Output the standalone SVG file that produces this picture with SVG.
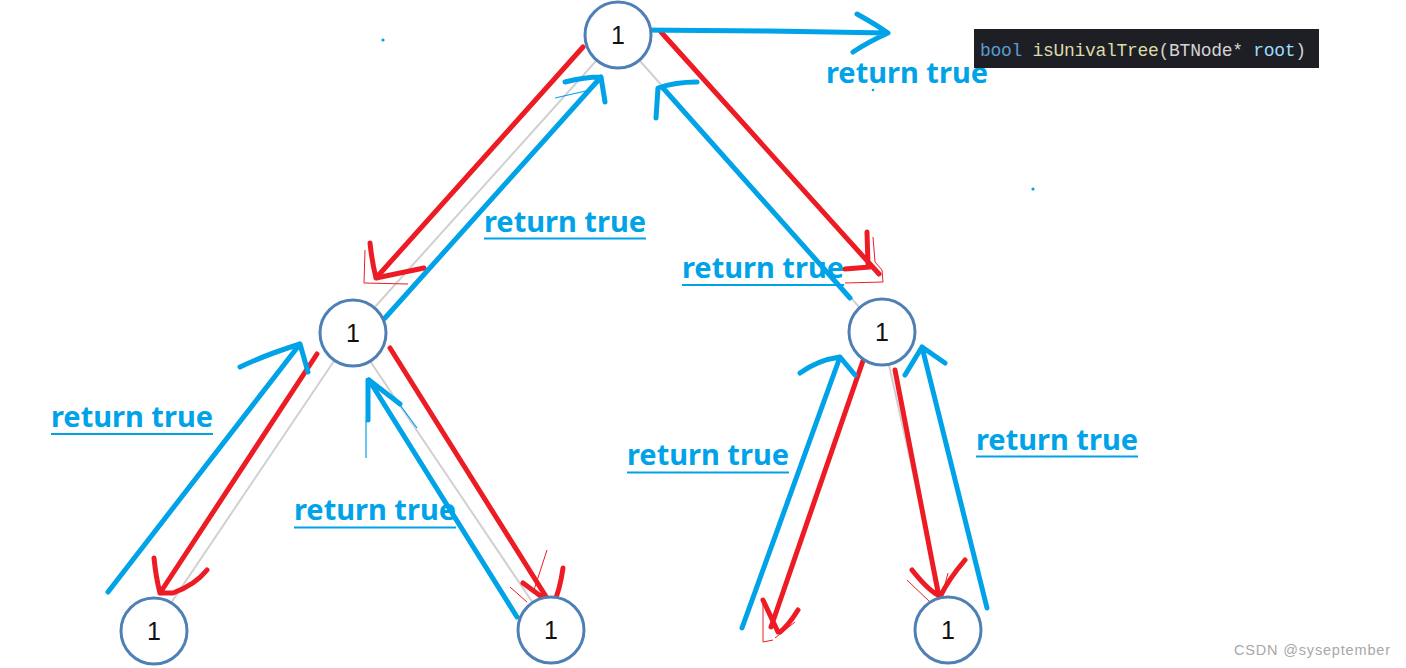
<svg xmlns="http://www.w3.org/2000/svg" width="1406" height="668" viewBox="0 0 1406 668">
<style>
.node circle{fill:#fff;stroke:#4f80b5;stroke-width:3}
.node text{font-family:"Liberation Sans",Arial,sans-serif;font-size:25px;fill:#111;text-anchor:middle}
.edge{stroke:#d0d0d0;stroke-width:2;fill:none}
.red{stroke:#ed1c24;stroke-width:5;fill:none;stroke-linecap:round;stroke-linejoin:round}
.redthin{stroke:#ed1c24;stroke-width:1;fill:none}
.blue{stroke:#00a2e8;stroke-width:5;fill:none;stroke-linecap:round;stroke-linejoin:round}
.bluethin{stroke:#00a2e8;stroke-width:1.2;fill:none}
.lbl{font-family:"Noto Sans","Open Sans",sans-serif;font-weight:bold;font-size:28px;fill:#00a2e8}
.ul{stroke:#00a2e8;stroke-width:2}
.code{font-family:"Liberation Mono","DejaVu Sans Mono",monospace;font-size:18px}
</style>
<rect width="1406" height="668" fill="#fff"/>
<g id="connectors">
  <line class="edge" x1="596" y1="61" x2="374" y2="308"/>
  <line class="edge" x1="640" y1="61" x2="860" y2="308"/>
  <line class="edge" x1="334" y1="361" x2="171" y2="603"/>
  <line class="edge" x1="370" y1="361" x2="533" y2="603"/>
  <line class="edge" x1="889" y1="365" x2="941" y2="598"/>
  <path class="red" d="M583,47 L376,278 M370,243 Q372,262 376,278 L424,268"/>
  <path class="redthin" d="M365,250 L364,283 L408,284"/>
  <path class="red" d="M661,32 L879,274 M845,269 L870,267 M867,232 L868,265"/>
  <path class="redthin" d="M873,237 L875,262 L882,270 L883,282 L845,283"/>
  <path class="red" d="M317,354 L160,593 M154,558 Q156,578 160,593 L173,593 Q195,585 207,570"/>
  <path class="red" d="M390,348 L550,603 M523,583 L550,603 M563,568 Q560,590 553,605"/>
  <path class="redthin" d="M547,550 L533,593 M510,587 L527,602"/>
  <path class="red" d="M865,355 L771,627 M763,600 L778,632 M798,610 Q788,626 780,632"/>
  <path class="redthin" d="M763,598 L763,642 L773,640 M795,622 L775,638"/>
  <path class="red" d="M895,370 L939,597 M912,570 Q928,590 938,595 M965,560 Q948,580 940,597"/>
  <path class="redthin" d="M907,580 L930,602 M948,573 L943,592"/>
  <path class="blue" d="M640,30 L770,31 L888,33 M857,14 Q875,24 888,33 Q868,42 853,52"/>
  <path class="blue" d="M385,318 L601,77 M565,82 Q585,77 601,77 L605,102"/>
  <path class="bluethin" d="M555,98 L590,90"/>
  <path class="blue" d="M850,298 L663,88 M656,118 L658,88 Q675,82 697,82"/>
  <path class="blue" d="M108,592 L300,344 M240,367 Q265,355 300,344 L308,372"/>
  <path class="blue" d="M517,617 L369,380 M368,380 L368,420 M369,380 L400,404"/>
  <path class="bluethin" d="M366,420 L366,458 M400,405 L417,428"/>
  <path class="blue" d="M742,628 L840,357 M800,373 Q818,360 840,357 L855,375"/>
  <path class="blue" d="M987,608 L922,347 M905,375 L922,347 L945,363"/>
  <circle cx="383" cy="40" r="1.6" fill="#00a2e8"/>
  <circle cx="1033" cy="189" r="1.6" fill="#00a2e8"/>
  <circle cx="873" cy="90" r="1.3" fill="#00a2e8"/>
</g>
<g id="labels">
  <text class="lbl" x="826" y="83" textLength="162" lengthAdjust="spacingAndGlyphs">return true</text>
  <text class="lbl" x="484" y="232" textLength="162" lengthAdjust="spacingAndGlyphs">return true</text>
  <line class="ul" x1="484" y1="238.5" x2="646" y2="238.5"/>
  <text class="lbl" x="682" y="278" textLength="162" lengthAdjust="spacingAndGlyphs">return true</text>
  <line class="ul" x1="682" y1="285" x2="844" y2="285"/>
  <text class="lbl" x="51" y="427" textLength="162" lengthAdjust="spacingAndGlyphs">return true</text>
  <line class="ul" x1="51" y1="434" x2="213" y2="434"/>
  <text class="lbl" x="294" y="520" textLength="162" lengthAdjust="spacingAndGlyphs">return true</text>
  <line class="ul" x1="294" y1="527.5" x2="456" y2="527.5"/>
  <text class="lbl" x="627" y="465" textLength="162" lengthAdjust="spacingAndGlyphs">return true</text>
  <line class="ul" x1="627" y1="472.5" x2="789" y2="472.5"/>
  <text class="lbl" x="976" y="450" textLength="162" lengthAdjust="spacingAndGlyphs">return true</text>
  <line class="ul" x1="976" y1="456.5" x2="1138" y2="456.5"/>
</g>
<g id="code">
  <rect x="974" y="29" width="345" height="39" fill="#1e1f24"/>
  <text class="code" x="980" y="56" textLength="326"><tspan fill="#569cd6">bool</tspan><tspan fill="#d4d4d4"> </tspan><tspan fill="#dcdcaa">isUnivalTree</tspan><tspan fill="#d4d4d4">(BTNode* </tspan><tspan fill="#9cdcfe">root</tspan><tspan fill="#d4d4d4">)</tspan></text>
</g>
<g id="n_root" class="node"><circle cx="618" cy="35" r="33"/><text x="618" y="44">1</text></g>
<g id="n_left" class="node"><circle cx="353" cy="333" r="33"/><text x="353" y="342">1</text></g>
<g id="n_right" class="node"><circle cx="882" cy="332" r="33"/><text x="882" y="341">1</text></g>
<g id="n_ll" class="node"><circle cx="154" cy="631" r="33"/><text x="154" y="640">1</text></g>
<g id="n_lr" class="node"><circle cx="551" cy="630" r="33"/><text x="551" y="639">1</text></g>
<g id="n_rr" class="node"><circle cx="948" cy="630" r="33"/><text x="948" y="639">1</text></g>
<text x="1234" y="655" font-family="Liberation Sans,Arial,sans-serif" font-size="14.5" fill="#a8a8a8" textLength="156">CSDN @syseptember</text>
</svg>
